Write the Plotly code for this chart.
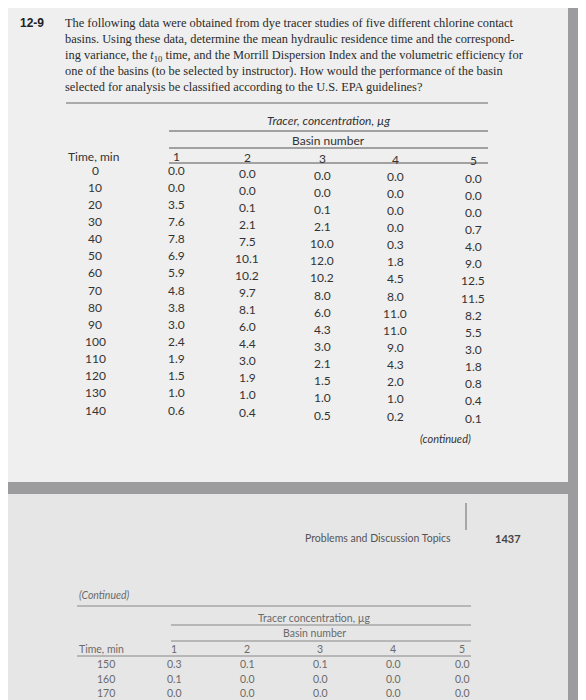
import plotly.graph_objects as go

# table data (top page)
times = [0, 10, 20, 30, 40, 50, 60, 70, 80, 90, 100, 110, 120, 130, 140]
basin1 = ["0.0", "0.0", "3.5", "7.6", "7.8", "6.9", "5.9", "4.8", "3.8", "3.0", "2.4", "1.9", "1.5", "1.0", "0.6"]
basin2 = ["0.0", "0.0", "0.1", "2.1", "7.5", "10.1", "10.2", "9.7", "8.1", "6.0", "4.4", "3.0", "1.9", "1.0", "0.4"]
basin3 = ["0.0", "0.0", "0.1", "2.1", "10.0", "12.0", "10.2", "8.0", "6.0", "4.3", "3.0", "2.1", "1.5", "1.0", "0.5"]
basin4 = ["0.0", "0.0", "0.0", "0.0", "0.3", "1.8", "4.5", "8.0", "11.0", "11.0", "9.0", "4.3", "2.0", "1.0", "0.2"]
basin5 = ["0.0", "0.0", "0.0", "0.7", "4.0", "9.0", "12.5", "11.5", "8.2", "5.5", "3.0", "1.8", "0.8", "0.4", "0.1"]

# continued table (bottom page)
times_c = [150, 160, 170]
basin1_c = ["0.3", "0.1", "0.0"]
basin2_c = ["0.1", "0.0", "0.0"]
basin3_c = ["0.1", "0.0", "0.0"]
basin4_c = ["0.0", "0.0", "0.0"]
basin5_c = ["0.0", "0.0", "0.0"]

question = ("The following data were obtained from dye tracer studies of five different chlorine contact<br>"
            "basins. Using these data, determine the mean hydraulic residence time and the correspond-<br>"
            "ing variance, the <i>t</i><sub>10</sub> time, and the Morrill Dispersion Index and the volumetric efficiency for<br>"
            "one of the basins (to be selected by instructor). How would the performance of the basin<br>"
            "selected for analysis be classified according to the U.S. EPA guidelines?")

SANS = "Lato"
fig = go.Figure()
shapes = [
    dict(type="rect", x0=0, x1=586, y0=0, y1=700, fillcolor="#9c9c9e", line_width=0, layer="below"),
    dict(type="rect", x0=0, x1=560, y0=0, y1=474, fillcolor="#efefef", line_width=0, layer="below"),
    dict(type="rect", x0=0, x1=560, y0=486, y1=700, fillcolor="#e6e6e6", line_width=0, layer="below"),
]

def hline(x0, x1, y, c="#555", w=1):
    shapes.append(dict(type="line", x0=x0, x1=x1, y0=y, y1=y, line=dict(color=c, width=w)))

ann = []
def txt(x, y, s, size=12, color="#333", family=SANS, anchor="center", **kw):
    ann.append(dict(x=x, y=y, text=s, showarrow=False, xanchor=anchor, yanchor="middle",
                    font=dict(size=size, color=color, family=family), **kw))

# question
txt(10, 15, "<b>12-9</b>", size=12, family="Liberation Sans", anchor="left", color="#222")
ann.append(dict(x=55, y=6, text=question, showarrow=False, xanchor="left", yanchor="top", align="left",
                font=dict(size=12.4, color="#2a2a2a", family="Liberation Serif")))

# top table rules and headers
hline(58, 480, 95, "#666")
hline(161, 480, 123)
hline(161, 480, 140)
hline(161, 480, 155)
txt(320, 112, "<i>Tracer, concentration, µg</i>", size=12)
txt(320, 132, "Basin number", size=12)
txt(58, 148, "Time, min", anchor="left")
col_x = [168, 239, 314, 387, 465]
top_y0 = [162, 165, 167, 168, 170]
top_y1 = [402, 404, 407, 408, 410]
for k, x in enumerate(col_x):
    txt(x, 148 + k * 1.2, str(k + 1))
n = len(times)
for i, t in enumerate(times):
    txt(87, 162 + i * (402 - 162) / (n - 1), str(t))
for k, col in enumerate([basin1, basin2, basin3, basin4, basin5]):
    for i, v in enumerate(col):
        txt(col_x[k], top_y0[k] + i * (top_y1[k] - top_y0[k]) / (n - 1), v)
txt(437, 430, "<i>(continued)</i>", size=11)

# page header of lower page
txt(370, 530, "Problems and Discussion Topics", size=10.5, color="#555")
shapes.append(dict(type="line", x0=458, x1=458, y0=495, y1=522, line=dict(color="#666", width=1)))
txt(500, 530, "<b>1437</b>", size=11, color="#444")

# continued table
lc = "#6a6a6a"
txt(69, 587, "<i>(Continued)</i>", size=10.5, color=lc, anchor="left")
hline(69, 463, 598, "#888")
hline(163, 463, 617, "#888")
hline(163, 463, 633, "#888")
hline(69, 463, 648, "#888")
hline(69, 463, 696, "#888")
txt(306, 610, "Tracer concentration, µg", size=10.5, color=lc)
txt(306, 625, "Basin number", size=10.5, color=lc)
txt(69, 641, "Time, min", size=10.5, color=lc, anchor="left")
col_xc = [166, 239, 312, 385, 454]
for k, x in enumerate(col_xc):
    txt(x, 641, str(k + 1), size=10.5, color=lc)
rows_c = [656, 671, 685]
for i, t in enumerate(times_c):
    txt(98, rows_c[i], str(t), size=10.5, color=lc)
for k, col in enumerate([basin1_c, basin2_c, basin3_c, basin4_c, basin5_c]):
    for i, v in enumerate(col):
        txt(col_xc[k], rows_c[i], v, size=10.5, color=lc)

fig.update_layout(
    width=586, height=700, margin=dict(l=0, r=0, t=0, b=0),
    paper_bgcolor="#efefef", plot_bgcolor="#efefef",
    xaxis=dict(range=[0, 586], visible=False, fixedrange=True),
    yaxis=dict(range=[700, 0], visible=False, fixedrange=True),
    shapes=shapes, annotations=ann, showlegend=False,
)
fig.write_html("out.html")
